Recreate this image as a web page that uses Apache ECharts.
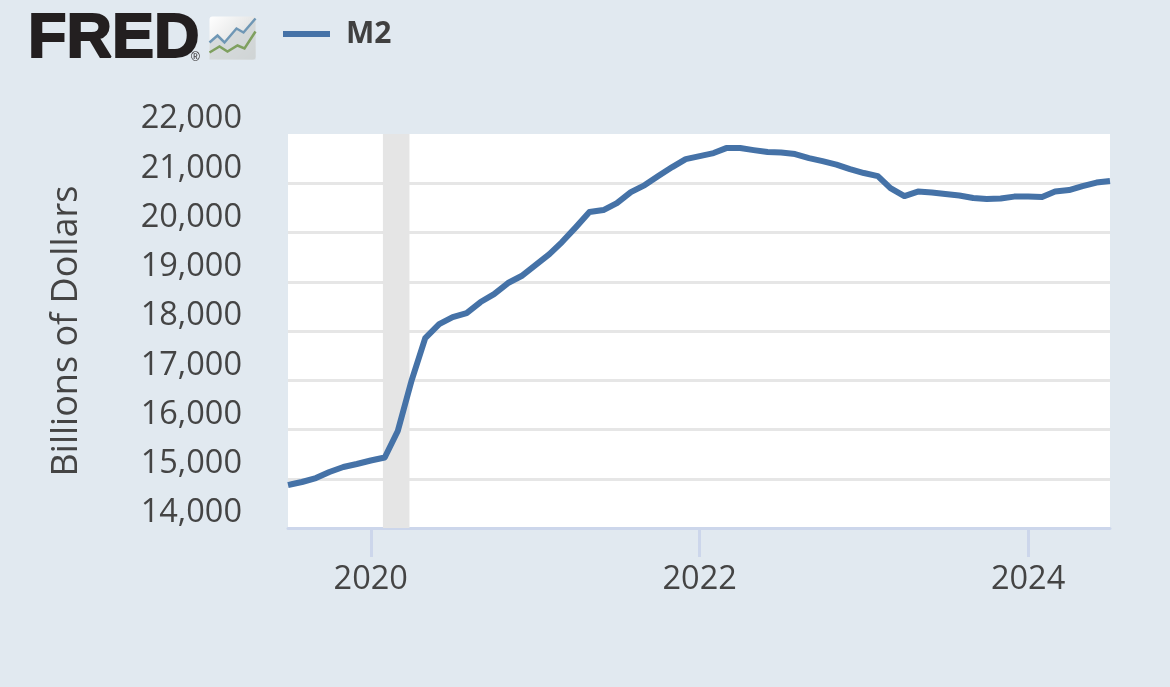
<!DOCTYPE html>
<html>
<head>
<meta charset="utf-8">
<title>M2</title>
<style>
html, body { margin: 0; padding: 0; background: #e1e9f0; }
#main { width: 1170px; height: 687px; }
</style>
<script src="https://cdn.jsdelivr.net/npm/echarts@6/dist/echarts.min.js"></script>
</head>
<body>
<div id="main"></div>
<script>
// monthly M2, billions of dollars
const months = [
    '2019-07-01', '2019-08-01', '2019-09-01', '2019-10-01', '2019-11-01', '2019-12-01',
    '2020-01-01', '2020-02-01', '2020-03-01', '2020-04-01', '2020-05-01', '2020-06-01',
    '2020-07-01', '2020-08-01', '2020-09-01', '2020-10-01', '2020-11-01', '2020-12-01',
    '2021-01-01', '2021-02-01', '2021-03-01', '2021-04-01', '2021-05-01', '2021-06-01',
    '2021-07-01', '2021-08-01', '2021-09-01', '2021-10-01', '2021-11-01', '2021-12-01',
    '2022-01-01', '2022-02-01', '2022-03-01', '2022-04-01', '2022-05-01', '2022-06-01',
    '2022-07-01', '2022-08-01', '2022-09-01', '2022-10-01', '2022-11-01', '2022-12-01',
    '2023-01-01', '2023-02-01', '2023-03-01', '2023-04-01', '2023-05-01', '2023-06-01',
    '2023-07-01', '2023-08-01', '2023-09-01', '2023-10-01', '2023-11-01', '2023-12-01',
    '2024-01-01', '2024-02-01', '2024-03-01', '2024-04-01', '2024-05-01', '2024-06-01',
    '2024-07-01'
];
const m2Values = [
    14873, 14934, 15015, 15137, 15238, 15299,
    15370, 15431, 15969, 17004, 17857, 18141,
    18283, 18365, 18588, 18750, 18974, 19116,
    19339, 19562, 19806, 20110, 20415, 20455,
    20598, 20821, 20963, 21146, 21328, 21491,
    21552, 21613, 21714, 21714, 21673, 21633,
    21623, 21592, 21511, 21450, 21379, 21288,
    21207, 21146, 20902, 20740, 20831, 20811,
    20780, 20750, 20699, 20679, 20689, 20729,
    20729, 20719, 20831, 20861, 20943, 21014,
    21044
];
const recessionSpan = ['2020-01-28', '2020-03-27'];
const yearTicks = ['2020-01-01', '2022-01-01', '2024-01-01'];

const fontName = '"Open Sans", sans-serif';
const myChart = echarts.init(document.getElementById('main'));

function toTime(d) {
    return Date.UTC(+d.slice(0, 4), +d.slice(5, 7) - 1, +d.slice(8, 10));
}
const yearTickTimes = yearTicks.map(toTime);

const option = {
    animation: false,
    backgroundColor: '#e1e9f0',
    grid: {
        left: 288,
        top: 134,
        width: 822,
        height: 394,
        show: true,
        backgroundColor: '#ffffff',
        borderWidth: 0
    },
    legend: {
        left: 278,
        top: 14,
        icon: 'rect',
        itemWidth: 47,
        itemHeight: 6,
        itemGap: 0,
        textStyle: {
            fontFamily: fontName,
            fontSize: 30,
            fontWeight: 'bold',
            color: '#404040',
            padding: [0, 0, 0, 11]
        },
        data: ['M2']
    },
    xAxis: {
        type: 'value',
        min: toTime(months[0]),
        max: toTime(months[months.length - 1]),
        axisLine: { lineStyle: { color: '#ccd6eb', width: 3 } },
        axisTick: {
            length: 29,
            lineStyle: { color: '#ccd6eb', width: 3 },
            customValues: yearTickTimes
        },
        axisLabel: {
            fontFamily: fontName,
            fontSize: 32.5,
            color: '#444444',
            margin: 35,
            customValues: yearTickTimes,
            formatter: function (v) { return String(new Date(v).getUTCFullYear()); }
        },
        splitLine: { show: false }
    },
    yAxis: {
        type: 'value',
        min: 14000,
        max: 22000,
        interval: 1000,
        name: 'Billions of Dollars',
        nameLocation: 'middle',
        nameGap: 203,
        nameTextStyle: {
            fontFamily: fontName,
            fontSize: 36,
            color: '#444444'
        },
        axisLine: { show: false },
        axisTick: { show: false },
        axisLabel: {
            margin: 46,
            formatter: function (v) { return '{t|' + v.toLocaleString('en-US') + '}'; },
            rich: {
                t: {
                    fontFamily: fontName,
                    fontSize: 32.5,
                    color: '#444444',
                    padding: [0, 0, 30, 0]
                }
            }
        },
        splitLine: { showMaxLine: false, lineStyle: { color: '#e6e6e6', width: 3 } }
    },
    series: [
        {
            name: 'M2',
            type: 'line',
            data: months.map(function (m, i) { return [toTime(m), m2Values[i]]; }),
            showSymbol: false,
            symbol: 'none',
            itemStyle: { color: '#4572a7' },
            lineStyle: { color: '#4572a7', width: 6, join: 'round' },
            markArea: {
                silent: true,
                itemStyle: { color: '#e5e5e5' },
                data: [[{ xAxis: toTime(recessionSpan[0]) }, { xAxis: toTime(recessionSpan[1]) }]]
            }
        }
    ],
    // FRED logo
    graphic: [
        {
            type: 'text',
            left: 27,
            top: 7,
            style: {
                text: 'FRED',
                font: 'bold 63px "Liberation Sans", sans-serif',
                fill: '#231f20',
                stroke: '#231f20',
                lineWidth: 2
            }
        },
        {
            type: 'text',
            left: 191,
            top: 52,
            style: { text: '®', font: '12px "Liberation Sans", sans-serif', fill: '#231f20' }
        },
        {
            type: 'group',
            left: 207,
            top: 16,
            children: [
                {
                    type: 'rect',
                    shape: { x: 0, y: 0, width: 46, height: 43, r: 3 },
                    style: {
                        fill: new echarts.graphic.LinearGradient(0, 0, 1, 1, [
                            { offset: 0, color: '#ffffff' },
                            { offset: 1, color: '#d0d2d2' }
                        ])
                    }
                },
                {
                    type: 'polygon',
                    shape: { points: [[0, 26], [8, 19], [15, 26], [27, 12], [34, 16], [46, 2], [46, 43], [0, 43]] },
                    style: { fill: '#cfd4d6', opacity: 0.75 }
                },
                {
                    type: 'polyline',
                    shape: { points: [[0, 26], [8, 19], [15, 26], [27, 12], [34, 16], [46, 2]] },
                    style: { stroke: '#6f97b5', lineWidth: 2.5, fill: null }
                },
                {
                    type: 'polyline',
                    shape: { points: [[0, 36], [10, 30], [18, 35], [28, 29], [35, 32], [46, 15]] },
                    style: { stroke: '#7fa05f', lineWidth: 2.5, fill: null }
                }
            ]
        }
    ]
};

myChart.setOption(option);
</script>
</body>
</html>
